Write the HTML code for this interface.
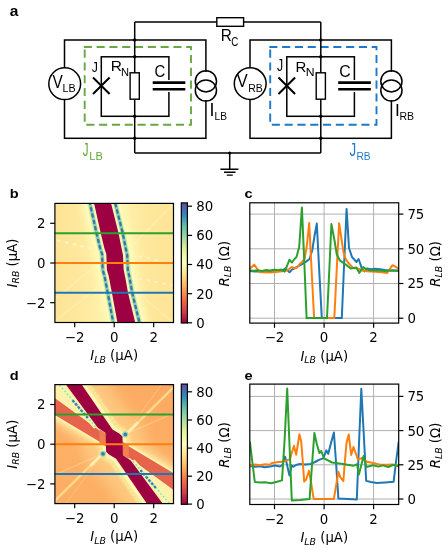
<!DOCTYPE html>
<html><head><meta charset="utf-8"><title>Figure</title>
<style>
html,body{margin:0;padding:0;background:#fff;}
svg{display:block;}
.c{font-family:"Liberation Sans",sans-serif;fill:#000;}
.m{font-family:"DejaVu Sans","Liberation Sans",sans-serif;fill:#000;font-size:13.33px;}
.pl{font-family:"Liberation Sans",sans-serif;font-weight:bold;font-size:13px;fill:#000;}
.w{stroke:#000;stroke-width:1.5;fill:none;}
</style></head><body>
<svg width="448" height="550" viewBox="0 0 448 550">
<rect width="448" height="550" fill="#fff"/>

<g id="circuit">
<path class="w" d="M134.7 22H320.8M134.7 153H320.8M229.7 153V169.2"/>
<rect x="216.8" y="17.7" width="26.8" height="8.6" fill="#fff" stroke="#000" stroke-width="1.4"/>
<circle cx="229.7" cy="153" r="1.6" fill="#000"/>
<path d="M220.4 169.2H238.4M224 172.2H235.5M226.8 175.1H232.8" stroke="#000" stroke-width="1.4" fill="none"/>
<text class="c" transform="translate(220.85 40.70) scale(0.766 0.829)" font-size="20" style="fill:#000">R</text>
<text class="c" transform="translate(231.31 45.62) scale(0.491 0.602)" font-size="20" style="fill:#000">C</text>
<rect class="w" x="64.5" y="40.0" width="141.4" height="98.30000000000001"/>
<path d="M83.8 47H191.0V124.8H84.7V47" fill="none" stroke="#6aa843" stroke-width="1.9" stroke-dasharray="8.1 4.7"/>
<rect class="w" x="101.3" y="56.8" width="67.60000000000001" height="59.5"/>
<path class="w" d="M134.7 22V153"/>
<rect x="130.1" y="72.8" width="9.2" height="26.4" fill="#fff" stroke="#000" stroke-width="1.4"/>
<circle cx="134.7" cy="40.0" r="1.7" fill="#000"/>
<circle cx="134.7" cy="56.8" r="1.7" fill="#000"/>
<circle cx="134.7" cy="116.3" r="1.7" fill="#000"/>
<circle cx="134.7" cy="138.3" r="1.7" fill="#000"/>
<path d="M93.0 77.5L109.6 94M109.6 77.5L93.0 94" stroke="#000" stroke-width="2" fill="none"/>
<rect x="151.9" y="80" width="34" height="12" fill="#fff"/>
<path d="M152.70000000000002 82.6H185.3M152.70000000000002 89.3H185.3" stroke="#000" stroke-width="2.6" fill="none"/>
<circle cx="64.7" cy="83.7" r="15.9" fill="#fff" stroke="#000" stroke-width="1.5"/>
<rect x="202.9" y="72" width="6" height="28" fill="#fff"/>
<circle cx="205.9" cy="81.3" r="10.6" fill="none" stroke="#000" stroke-width="1.5"/>
<circle cx="205.9" cy="90.5" r="10.6" fill="none" stroke="#000" stroke-width="1.5"/>
<text class="c" transform="translate(52.60 87.60) scale(0.770 0.880)" font-size="20" style="fill:#000">V</text>
<text class="c" transform="translate(62.53 92.00) scale(0.538 0.575)" font-size="20" style="fill:#000">LB</text>
<text class="c" transform="translate(209.52 116.00) scale(0.895 0.895)" font-size="20" style="fill:#000">I</text>
<text class="c" transform="translate(214.58 120.00) scale(0.506 0.538)" font-size="20" style="fill:#000">LB</text>
<text class="c" transform="translate(91.87 71.60) scale(0.615 0.764)" font-size="20" style="fill:#000">J</text>
<text class="c" transform="translate(110.74 71.30) scale(0.775 0.778)" font-size="20" style="fill:#000">R</text>
<text class="c" transform="translate(120.89 76.20) scale(0.557 0.538)" font-size="20" style="fill:#000">N</text>
<text class="c" transform="translate(154.46 76.99) scale(0.745 0.842)" font-size="20" style="fill:#000">C</text>
<text class="c" transform="translate(82.68 156.08) scale(0.578 0.930)" font-size="20" style="fill:#66a83c">J</text>
<text class="c" transform="translate(89.20 160.20) scale(0.556 0.575)" font-size="20" style="fill:#66a83c">LB</text>
<rect class="w" x="250.0" y="40.0" width="141.39999999999998" height="98.30000000000001"/>
<path d="M269.3 47H376.5V124.8H270.2V47" fill="none" stroke="#1f78c8" stroke-width="1.9" stroke-dasharray="8.1 4.7"/>
<rect class="w" x="286.8" y="56.8" width="67.59999999999997" height="59.5"/>
<path class="w" d="M320.8 22V153"/>
<rect x="316.2" y="72.8" width="9.2" height="26.4" fill="#fff" stroke="#000" stroke-width="1.4"/>
<circle cx="320.8" cy="40.0" r="1.7" fill="#000"/>
<circle cx="320.8" cy="56.8" r="1.7" fill="#000"/>
<circle cx="320.8" cy="116.3" r="1.7" fill="#000"/>
<circle cx="320.8" cy="138.3" r="1.7" fill="#000"/>
<path d="M278.5 77.5L295.1 94M295.1 77.5L278.5 94" stroke="#000" stroke-width="2" fill="none"/>
<rect x="337.4" y="80" width="34" height="12" fill="#fff"/>
<path d="M338.2 82.6H370.79999999999995M338.2 89.3H370.79999999999995" stroke="#000" stroke-width="2.6" fill="none"/>
<circle cx="250.2" cy="83.6" r="15.9" fill="#fff" stroke="#000" stroke-width="1.5"/>
<rect x="388.4" y="72" width="6" height="28" fill="#fff"/>
<circle cx="391.4" cy="81.3" r="10.6" fill="none" stroke="#000" stroke-width="1.5"/>
<circle cx="391.4" cy="90.5" r="10.6" fill="none" stroke="#000" stroke-width="1.5"/>
<text class="c" transform="translate(236.80 87.30) scale(0.823 0.880)" font-size="20" style="fill:#000">V</text>
<text class="c" transform="translate(248.25 91.50) scale(0.525 0.545)" font-size="20" style="fill:#000">RB</text>
<text class="c" transform="translate(394.88 116.00) scale(0.865 0.865)" font-size="20" style="fill:#000">I</text>
<text class="c" transform="translate(399.45 120.00) scale(0.525 0.509)" font-size="20" style="fill:#000">RB</text>
<text class="c" transform="translate(277.07 71.40) scale(0.615 0.786)" font-size="20" style="fill:#000">J</text>
<text class="c" transform="translate(295.58 71.60) scale(0.749 0.771)" font-size="20" style="fill:#000">R</text>
<text class="c" transform="translate(305.71 76.20) scale(0.611 0.538)" font-size="20" style="fill:#000">N</text>
<text class="c" transform="translate(339.21 76.89) scale(0.792 0.842)" font-size="20" style="fill:#000">C</text>
<text class="c" transform="translate(349.55 155.88) scale(0.665 0.930)" font-size="20" style="fill:#1f78c8">J</text>
<text class="c" transform="translate(356.47 160.00) scale(0.513 0.589)" font-size="20" style="fill:#1f78c8">RB</text>
</g>
<text class="pl" x="9.7" y="16" style="font-size:15.5px">a</text>
<defs>
<clipPath id="cb"><rect x="54.9" y="203.4" width="118.6" height="119.1"/></clipPath>
<clipPath id="cd"><rect x="54.9" y="384.6" width="118.6" height="119"/></clipPath>
<clipPath id="cc"><rect x="249.8" y="202.8" width="148.9" height="120.3"/></clipPath>
<clipPath id="ce"><rect x="249.8" y="384.1" width="148.9" height="120.4"/></clipPath>
<filter id="b1" x="-20%" y="-20%" width="140%" height="140%"><feGaussianBlur stdDeviation="0.7"/></filter>
<filter id="b2" x="-20%" y="-20%" width="140%" height="140%"><feGaussianBlur stdDeviation="1.6"/></filter>
<filter id="b3" x="-30%" y="-30%" width="160%" height="160%"><feGaussianBlur stdDeviation="3.2"/></filter>
<filter id="b6" x="-30%" y="-30%" width="160%" height="160%"><feGaussianBlur stdDeviation="7"/></filter>
<linearGradient id="spec" x1="0" y1="1" x2="0" y2="0">
<stop offset="0" stop-color="#9e0142"/><stop offset="0.1" stop-color="#d53e4f"/><stop offset="0.2" stop-color="#f46d43"/>
<stop offset="0.3" stop-color="#fdae61"/><stop offset="0.4" stop-color="#fee08b"/><stop offset="0.5" stop-color="#ffffbf"/>
<stop offset="0.6" stop-color="#e6f598"/><stop offset="0.7" stop-color="#abdda4"/><stop offset="0.8" stop-color="#66c2a5"/>
<stop offset="0.9" stop-color="#3288bd"/><stop offset="1" stop-color="#5e4fa2"/></linearGradient>
<linearGradient id="bgb" x1="0" y1="0" x2="1" y2="0">
<stop offset="0" stop-color="#fee395"/><stop offset="0.2" stop-color="#fee89d"/><stop offset="0.5" stop-color="#fff4b0"/><stop offset="0.8" stop-color="#fee79b"/><stop offset="1" stop-color="#fee496"/></linearGradient>
</defs>
<g clip-path="url(#cb)">
<rect x="54.9" y="203.4" width="118.6" height="119.1" fill="url(#bgb)"/>
<g stroke="#fff6c4" stroke-width="1.2" opacity="0.5" filter="url(#b1)"><path d="M54 300L100 262M172 205L128 250M54 322L104 282M172 322L135 290" fill="none"/></g>
<path d="M57 240.4L97 249.6" stroke="#fff6c6" stroke-width="2.4" stroke-dasharray="3.5 4.5" opacity="0.9" filter="url(#b1)" fill="none"/>
<path d="M131 277L173 285.5M131 254.6L163 261.4" stroke="#fff6c6" stroke-width="2.2" stroke-dasharray="3.5 4.5" opacity="0.75" filter="url(#b1)" fill="none"/>
<polygon points="79.3,195.4 87.7,233.0 91.4,248.5 93.3,254.0 93.9,270.0 95.7,276.0 98.9,292.8 105.9,330.5 150.2,330.5 141.0,292.8 138.4,278.0 136.7,270.0 136.0,255.0 134.5,248.0 131.5,233.0 122.1,195.4" fill="#fff8b4" filter="url(#b3)"/>
<polygon points="83.8,195.4 92.2,233.0 95.9,248.5 97.8,254.0 98.4,270.0 100.2,276.0 103.4,292.8 110.4,330.5 145.7,330.5 136.5,292.8 133.9,278.0 132.2,270.0 131.5,255.0 130.0,248.0 127.0,233.0 117.6,195.4" fill="#fffdc0" filter="url(#b2)"/>
<polygon points="85.3,195.4 93.7,233.0 97.4,248.5 99.3,254.0 99.9,270.0 101.7,276.0 104.9,292.8 111.9,330.5 144.2,330.5 135.0,292.8 132.4,278.0 130.7,270.0 130.0,255.0 128.5,248.0 125.5,233.0 116.1,195.4" fill="#dcf0a4" filter="url(#b1)"/>
<polygon points="86.4,195.4 94.8,233.0 98.5,248.5 100.4,254.0 101.0,270.0 102.8,276.0 106.0,292.8 113.0,330.5 143.1,330.5 133.9,292.8 131.3,278.0 129.6,270.0 128.9,255.0 127.4,248.0 124.4,233.0 115.0,195.4" fill="#86cfa6" filter="url(#b1)"/>
<polyline points="88.1,195.4 96.5,233.0 100.2,248.5 102.1,254.0 102.7,270.0 104.5,276.0 107.7,292.8 114.7,330.5" fill="none" stroke="#3e6db2" stroke-width="2.2" stroke-linecap="round" stroke-dasharray="2.3 4.2" filter="url(#b1)"/>
<polyline points="141.4,330.5 132.2,292.8 129.6,278.0 127.9,270.0 127.2,255.0 125.7,248.0 122.7,233.0 113.3,195.4" fill="none" stroke="#3e6db2" stroke-width="2.2" stroke-linecap="round" stroke-dasharray="2.3 4.2" stroke-dashoffset="3" filter="url(#b1)"/>
<polygon points="90.0,195.4 98.4,233.0 102.1,248.5 104.0,254.0 104.6,270.0 106.4,276.0 109.6,292.8 116.6,330.5 139.5,330.5 130.3,292.8 127.7,278.0 126.0,270.0 125.3,255.0 123.8,248.0 120.8,233.0 111.4,195.4" fill="#eef7b0" filter="url(#b1)"/>
<polygon points="91.1,195.4 99.5,233.0 103.2,248.5 105.1,254.0 105.7,270.0 107.5,276.0 110.7,292.8 117.7,330.5 138.4,330.5 129.2,292.8 126.6,278.0 124.9,270.0 124.2,255.0 122.7,248.0 119.7,233.0 110.3,195.4" fill="#fff8c4" filter="url(#b1)"/>
<polygon points="92.3,195.4 100.7,233.0 104.4,248.5 106.3,254.0 106.9,270.0 108.7,276.0 111.9,292.8 118.9,330.5 137.2,330.5 128.0,292.8 125.4,278.0 123.7,270.0 123.0,255.0 121.5,248.0 118.5,233.0 109.1,195.4" fill="#9e0142"/>
</g>
<path d="M54.9 233.2H173.5" stroke="#2ca02c" stroke-width="2" fill="none"/><path d="M54.9 263.0H173.5" stroke="#ff7f0e" stroke-width="2" fill="none"/><path d="M54.9 292.8H173.5" stroke="#1f77b4" stroke-width="2" fill="none"/>
<rect x="54.9" y="203.4" width="118.6" height="119.1" fill="none" stroke="#000" stroke-width="1.2"/>
<linearGradient id="bgd" x1="0" y1="1" x2="1" y2="0">
<stop offset="0" stop-color="#fcad63"/><stop offset="0.5" stop-color="#fdb268"/><stop offset="1" stop-color="#fca860"/></linearGradient>
<g clip-path="url(#cd)">
<rect x="54.9" y="384.6" width="118.6" height="119.0" fill="url(#bgd)"/>
<polygon points="77.9,379.0 112.5,429.4 119.6,433.8 122.5,436.5 122.9,454.7 123.2,455.5 130.8,460.4 166.8,509.2 150.7,509.2 116.1,458.8 109.0,454.4 106.1,451.7 105.7,433.5 105.4,432.7 97.8,427.8 61.8,379.0" fill="none" stroke="#fdca82" stroke-width="44" stroke-linejoin="round" filter="url(#b6)" opacity="0.9"/>
<polygon points="50.0,393.7 54.9,397.2 99.5,429.6 105.9,433.8 105.9,446.5 54.9,416.0 50.0,413.1" fill="none" stroke="#fdcb84" stroke-width="16" filter="url(#b3)"/>
<polygon points="178.6,494.5 173.7,491.0 129.1,458.6 122.7,454.4 122.7,441.7 173.7,472.2 178.6,475.1" fill="none" stroke="#fdcb84" stroke-width="16" filter="url(#b3)"/>
<polygon points="77.9,379.0 112.5,429.4 119.6,433.8 122.5,436.5 122.9,454.7 123.2,455.5 130.8,460.4 166.8,509.2 150.7,509.2 116.1,458.8 109.0,454.4 106.1,451.7 105.7,433.5 105.4,432.7 97.8,427.8 61.8,379.0" fill="none" stroke="#fee394" stroke-width="15" stroke-linejoin="round" filter="url(#b2)"/>
<polygon points="50.0,393.7 54.9,397.2 99.5,429.6 105.9,433.8 105.9,446.5 54.9,416.0 50.0,413.1" fill="none" stroke="#fee597" stroke-width="7" filter="url(#b2)"/>
<polygon points="178.6,494.5 173.7,491.0 129.1,458.6 122.7,454.4 122.7,441.7 173.7,472.2 178.6,475.1" fill="none" stroke="#fee597" stroke-width="7" filter="url(#b2)"/>
<polygon points="77.9,379.0 112.5,429.4 119.6,433.8 122.5,436.5 122.9,454.7 123.2,455.5 130.8,460.4 166.8,509.2 150.7,509.2 116.1,458.8 109.0,454.4 106.1,451.7 105.7,433.5 105.4,432.7 97.8,427.8 61.8,379.0" fill="none" stroke="#fff6b4" stroke-width="7" stroke-linejoin="round" filter="url(#b1)"/>
<polygon points="50.0,379.0 62.0,379.0 97.8,427.8 103.3,431.3 50.0,393.2" fill="#fff0aa" filter="url(#b1)"/>
<polygon points="178.6,509.2 166.6,509.2 130.8,460.4 125.3,456.9 178.6,495.0" fill="#fff0aa" filter="url(#b1)"/>
<polygon points="50,379 60,379 50,392" fill="#fdc674" filter="url(#b2)"/><polygon points="178,509 168,509 178,496" fill="#fdc674" filter="url(#b2)"/>
<g fill="none" filter="url(#b1)"><path d="M125.5 434.8L176 384.8M102.9 453.4L52 503.6" stroke="#fed98b" stroke-width="2.4"/><path d="M125.5 434.8L138 422.4M102.9 453.4L90.4 465.8" stroke="#fff2b0" stroke-width="2.6"/><path d="M102 454L54 475M126 434L174 413" stroke="#fee79c" stroke-width="1.3" opacity="0.45"/><path d="M101 456L66 503.5M127 432L162 384" stroke="#fee79c" stroke-width="1.2" opacity="0.3"/></g>
<polygon points="50.0,393.7 54.9,397.2 99.5,429.6 105.9,433.8 105.9,446.5 54.9,416.0 50.0,413.1" fill="#e7644c" stroke="#fff3b0" stroke-width="1.6"/>
<polygon points="178.6,494.5 173.7,491.0 129.1,458.6 122.7,454.4 122.7,441.7 173.7,472.2 178.6,475.1" fill="#e7644c" stroke="#fff3b0" stroke-width="1.6"/>
<polygon points="99.5,429.3 106,433.5 106,446.6 99.5,442.8" fill="#f0804e"/>
<polygon points="122.3,441.6 128.8,445.4 128.8,458.9 122.3,454.7" fill="#f0804e"/>
<g fill="none" filter="url(#b1)"><path d="M59.5 385L95.8 427.2M169.1 503.2L132.8 461.0" stroke="#f0f9b2" stroke-width="4.6"/><path d="M59.5 385L95.8 427.2M169.1 503.2L132.8 461.0" stroke="#a8dca6" stroke-width="1.7" stroke-dasharray="1.8 2"/><path d="M72.5 400.2L88.5 418.8M155.8 488L139.8 469.4" stroke="#3b7fba" stroke-width="2.4" stroke-dasharray="2.6 1.6"/></g>
<g fill="none" filter="url(#b1)" stroke="#e4f4a6" stroke-width="1.6" stroke-dasharray="2 2.4" opacity="0.9"><path d="M89.5 385L121 430.5M138.8 503.2L107.3 457.7"/></g>
<polygon points="77.9,379.0 112.5,429.4 119.6,433.8 122.5,436.5 122.9,454.7 123.2,455.5 130.8,460.4 166.8,509.2 150.7,509.2 116.1,458.8 109.0,454.4 106.1,451.7 105.7,433.5 105.4,432.7 97.8,427.8 61.8,379.0" fill="#9e0142"/>
<circle cx="125.3" cy="434.4" r="3.1" fill="#a5dba4" filter="url(#b1)"/><circle cx="125.3" cy="434.4" r="1.9" fill="#3a7dba" filter="url(#b1)"/>
<circle cx="103.0" cy="453.8" r="3.1" fill="#a5dba4" filter="url(#b1)"/><circle cx="103.0" cy="453.8" r="1.9" fill="#3a7dba" filter="url(#b1)"/>
</g>
<path d="M54.9 414.4H173.5" stroke="#2ca02c" stroke-width="2" fill="none"/><path d="M54.9 444.2H173.5" stroke="#ff7f0e" stroke-width="2" fill="none"/><path d="M54.9 474.0H173.5" stroke="#1f77b4" stroke-width="2" fill="none"/>
<rect x="54.9" y="384.6" width="118.6" height="119.0" fill="none" stroke="#000" stroke-width="1.2"/>
<rect x="181.3" y="202.9" width="6.1" height="120.1" fill="url(#spec)" stroke="#000" stroke-width="1.2"/><path d="M187.5 206.2H192.1" stroke="#000" stroke-width="1.2"/><text class="m" x="196.2" y="211.1">80</text><path d="M187.5 235.4H192.1" stroke="#000" stroke-width="1.2"/><text class="m" x="196.2" y="240.3">60</text><path d="M187.5 264.5H192.1" stroke="#000" stroke-width="1.2"/><text class="m" x="196.2" y="269.4">40</text><path d="M187.5 293.7H192.1" stroke="#000" stroke-width="1.2"/><text class="m" x="196.2" y="298.59999999999997">20</text><path d="M187.5 322.8H192.1" stroke="#000" stroke-width="1.2"/><text class="m" x="196.2" y="327.7">0</text>
<rect x="181.3" y="384.1" width="6.1" height="120.19999999999999" fill="url(#spec)" stroke="#000" stroke-width="1.2"/><path d="M187.5 391.8H192.1" stroke="#000" stroke-width="1.2"/><text class="m" x="196.2" y="396.7">80</text><path d="M187.5 420.0H192.1" stroke="#000" stroke-width="1.2"/><text class="m" x="196.2" y="424.9">60</text><path d="M187.5 448.1H192.1" stroke="#000" stroke-width="1.2"/><text class="m" x="196.2" y="453.0">40</text><path d="M187.5 476.2H192.1" stroke="#000" stroke-width="1.2"/><text class="m" x="196.2" y="481.09999999999997">20</text><path d="M187.5 504.1H192.1" stroke="#000" stroke-width="1.2"/><text class="m" x="196.2" y="509.0">0</text>
<text class="m" transform="translate(228.6 263.6) rotate(-90)" text-anchor="middle"><tspan font-style="italic">R</tspan><tspan font-style="italic" font-size="9.33" dy="2.3">LB</tspan><tspan dy="-2.3"> (Ω)</tspan></text>
<text class="m" transform="translate(228.6 445) rotate(-90)" text-anchor="middle"><tspan font-style="italic">R</tspan><tspan font-style="italic" font-size="9.33" dy="2.3">LB</tspan><tspan dy="-2.3"> (Ω)</tspan></text>
<text class="m" transform="translate(439.9 263.8) rotate(-90)" text-anchor="middle"><tspan font-style="italic">R</tspan><tspan font-style="italic" font-size="9.33" dy="2.3">LB</tspan><tspan dy="-2.3"> (Ω)</tspan></text>
<text class="m" transform="translate(439.9 445.4) rotate(-90)" text-anchor="middle"><tspan font-style="italic">R</tspan><tspan font-style="italic" font-size="9.33" dy="2.3">LB</tspan><tspan dy="-2.3"> (Ω)</tspan></text>
<path d="M74.7 322.5V327.2" stroke="#000" stroke-width="1.2"/><text class="m" x="74.7" y="341.8" text-anchor="middle">−2</text><path d="M54.9 302.7H50.2" stroke="#000" stroke-width="1.2"/><text class="m" x="45.5" y="307.6" text-anchor="end">−2</text><path d="M114.2 322.5V327.2" stroke="#000" stroke-width="1.2"/><text class="m" x="114.2" y="341.8" text-anchor="middle">0</text><path d="M54.9 263.0H50.2" stroke="#000" stroke-width="1.2"/><text class="m" x="45.5" y="267.9" text-anchor="end">0</text><path d="M153.7 322.5V327.2" stroke="#000" stroke-width="1.2"/><text class="m" x="153.7" y="341.8" text-anchor="middle">2</text><path d="M54.9 223.3H50.2" stroke="#000" stroke-width="1.2"/><text class="m" x="45.5" y="228.2" text-anchor="end">2</text>
<path d="M74.7 503.6V508.3" stroke="#000" stroke-width="1.2"/><text class="m" x="74.7" y="522.9" text-anchor="middle">−2</text><path d="M54.9 483.9H50.2" stroke="#000" stroke-width="1.2"/><text class="m" x="45.5" y="488.8" text-anchor="end">−2</text><path d="M114.2 503.6V508.3" stroke="#000" stroke-width="1.2"/><text class="m" x="114.2" y="522.9" text-anchor="middle">0</text><path d="M54.9 444.2H50.2" stroke="#000" stroke-width="1.2"/><text class="m" x="45.5" y="449.1" text-anchor="end">0</text><path d="M153.7 503.6V508.3" stroke="#000" stroke-width="1.2"/><text class="m" x="153.7" y="522.9" text-anchor="middle">2</text><path d="M54.9 404.5H50.2" stroke="#000" stroke-width="1.2"/><text class="m" x="45.5" y="409.4" text-anchor="end">2</text>
<text class="m" x="114.2" y="360.3" text-anchor="middle"><tspan font-style="italic">I</tspan><tspan font-style="italic" font-size="9.33" dy="2.3">LB</tspan><tspan dy="-2.3"> (µA)</tspan></text>
<text class="m" x="114.2" y="541.4" text-anchor="middle"><tspan font-style="italic">I</tspan><tspan font-style="italic" font-size="9.33" dy="2.3">LB</tspan><tspan dy="-2.3"> (µA)</tspan></text>
<text class="m" transform="translate(16.6 263.0) rotate(-90)" text-anchor="middle"><tspan font-style="italic">I</tspan><tspan font-style="italic" font-size="9.33" dy="2.3">RB</tspan><tspan dy="-2.3"> (µA)</tspan></text>
<text class="m" transform="translate(16.6 444.2) rotate(-90)" text-anchor="middle"><tspan font-style="italic">I</tspan><tspan font-style="italic" font-size="9.33" dy="2.3">RB</tspan><tspan dy="-2.3"> (µA)</tspan></text>
<rect x="249.8" y="202.8" width="148.89999999999998" height="120.30000000000001" fill="#fff"/><path d="M274.5 202.8V323.1M324.1 202.8V323.1M373.6 202.8V323.1M249.8 214.1H398.7M249.8 248.8H398.7M249.8 283.5H398.7M249.8 318.2H398.7" stroke="#b0b0b0" stroke-width="1" fill="none"/><g clip-path="url(#cc)" fill="none" stroke-width="2" stroke-linejoin="round" stroke-linecap="butt"><polyline stroke="#1f77b4" points="249.8,271.0 255.0,271.6 260.0,271.2 265.0,271.8 270.0,271.3 275.0,271.6 280.0,271.0 283.0,270.0 285.5,268.4 289.5,272.3 292.0,269.6 297.0,267.0 301.6,264.3 306.0,261.6 309.6,259.0 312.3,250.0 314.5,236.0 316.8,223.6 319.2,270.0 321.8,318.1 341.8,318.1 344.2,262.0 346.6,208.9 349.0,248.0 352.0,257.0 356.5,262.0 358.6,259.0 362.0,268.8 364.5,271.4 367.0,268.5 371.0,269.3 375.0,268.8 380.0,269.2 385.0,270.0 390.0,270.3 398.7,270.5"/><polyline stroke="#ff7f0e" points="249.8,268.8 254.2,264.6 259.6,272.3 265.0,272.2 270.0,272.4 275.0,272.0 280.0,271.6 283.7,271.0 287.0,270.5 289.4,268.8 291.8,267.0 294.5,268.4 297.1,267.5 299.5,264.3 302.0,262.0 304.5,259.0 306.8,246.0 309.2,222.9 311.6,270.0 314.1,318.1 334.3,318.1 336.7,270.0 339.1,223.2 341.0,235.7 343.4,251.8 345.7,259.0 347.9,262.5 353.2,267.9 358.6,268.8 362.1,270.5 367.0,271.3 375.0,271.8 382.0,272.2 387.1,272.9 389.8,269.0 392.5,265.2 396.0,267.0 398.7,268.8"/><polyline stroke="#2ca02c" points="249.8,270.5 254.0,270.8 258.0,270.2 262.0,270.9 266.0,270.0 270.0,270.6 274.0,269.8 278.0,270.2 281.0,269.6 284.6,271.6 287.0,266.0 289.4,259.8 292.0,262.5 294.5,259.0 296.5,257.0 299.2,247.0 301.9,207.5 304.3,262.0 306.6,318.1 327.0,318.1 329.3,270.0 331.4,224.1 334.6,241.0 336.8,254.5 340.0,260.7 345.4,264.3 350.7,268.4 356.4,267.5 359.3,272.9 363.2,267.0 366.8,269.6 371.0,270.4 378.0,270.6 385.0,270.9 392.0,270.6 398.7,271.0"/></g><rect x="249.8" y="202.8" width="148.89999999999998" height="120.30000000000001" fill="none" stroke="#000" stroke-width="1.2"/><path d="M274.5 323.1V327.8" stroke="#000" stroke-width="1.2"/><text class="m" x="274.5" y="342.40000000000003" text-anchor="middle">−2</text><path d="M324.1 323.1V327.8" stroke="#000" stroke-width="1.2"/><text class="m" x="324.1" y="342.40000000000003" text-anchor="middle">0</text><path d="M373.6 323.1V327.8" stroke="#000" stroke-width="1.2"/><text class="m" x="373.6" y="342.40000000000003" text-anchor="middle">2</text><path d="M398.7 214.1H403.4" stroke="#000" stroke-width="1.2"/><text class="m" x="407.4" y="219.0">75</text><path d="M398.7 248.8H403.4" stroke="#000" stroke-width="1.2"/><text class="m" x="407.4" y="253.70000000000002">50</text><path d="M398.7 283.5H403.4" stroke="#000" stroke-width="1.2"/><text class="m" x="407.4" y="288.4">25</text><path d="M398.7 318.2H403.4" stroke="#000" stroke-width="1.2"/><text class="m" x="407.4" y="323.09999999999997">0</text>
<rect x="249.8" y="384.1" width="148.89999999999998" height="120.39999999999998" fill="#fff"/><path d="M274.5 384.1V504.5M324.1 384.1V504.5M373.6 384.1V504.5M249.8 396.4H398.7M249.8 430.6H398.7M249.8 464.8H398.7M249.8 499.0H398.7" stroke="#b0b0b0" stroke-width="1" fill="none"/><g clip-path="url(#ce)" fill="none" stroke-width="2" stroke-linejoin="round" stroke-linecap="butt"><polyline stroke="#1f77b4" points="249.8,466.0 255.0,466.8 260.0,466.2 265.0,467.2 270.0,466.5 275.0,465.6 280.0,466.5 282.5,465.0 285.0,456.6 286.4,462.0 289.4,475.4 291.8,465.5 293.5,466.8 296.0,465.0 299.8,464.0 305.0,464.5 310.5,464.0 315.0,462.0 319.4,459.6 323.2,458.4 326.4,450.4 328.2,453.9 331.0,443.0 333.9,432.5 336.2,465.0 338.4,498.6 356.8,499.5 359.0,444.0 361.3,388.7 363.8,435.0 366.2,480.9 371.0,482.0 376.6,483.0 385.0,482.5 393.6,481.8 396.0,462.0 398.7,441.6"/><polyline stroke="#ff7f0e" points="249.8,465.5 255.0,464.5 260.0,465.3 265.0,464.3 269.4,464.8 272.0,463.0 277.0,462.3 283.7,461.4 290.0,459.3 292.0,452.0 294.0,445.9 296.2,454.8 299.4,434.3 301.2,441.4 302.8,462.0 304.2,481.6 306.0,479.8 309.0,470.9 310.5,479.0 313.7,498.9 333.9,498.9 336.2,485.0 338.4,471.8 340.2,477.1 343.4,481.0 344.8,462.0 346.5,443.0 348.7,434.4 351.2,455.0 353.5,447.0 356.0,454.0 358.0,459.6 361.4,458.2 366.8,461.8 375.7,463.6 380.2,464.8 386.4,464.8 391.8,464.5 398.7,465.8"/><polyline stroke="#2ca02c" points="249.8,441.4 254.8,482.0 260.0,482.5 265.0,482.2 271.2,483.2 277.0,481.8 282.0,480.4 284.6,440.0 287.2,388.5 289.5,445.0 291.8,500.4 300.0,499.9 309.6,498.9 312.0,465.0 314.4,432.9 316.8,444.0 319.4,453.0 321.2,451.0 324.1,458.4 332.1,462.5 342.9,464.1 353.4,465.8 357.0,464.2 358.9,474.6 363.6,456.0 366.4,467.0 373.0,465.2 378.4,466.6 382.9,465.4 388.2,467.0 393.6,464.8 398.7,466.4"/></g><rect x="249.8" y="384.1" width="148.89999999999998" height="120.39999999999998" fill="none" stroke="#000" stroke-width="1.2"/><path d="M274.5 504.5V509.2" stroke="#000" stroke-width="1.2"/><text class="m" x="274.5" y="523.8" text-anchor="middle">−2</text><path d="M324.1 504.5V509.2" stroke="#000" stroke-width="1.2"/><text class="m" x="324.1" y="523.8" text-anchor="middle">0</text><path d="M373.6 504.5V509.2" stroke="#000" stroke-width="1.2"/><text class="m" x="373.6" y="523.8" text-anchor="middle">2</text><path d="M398.7 396.4H403.4" stroke="#000" stroke-width="1.2"/><text class="m" x="407.4" y="401.29999999999995">75</text><path d="M398.7 430.6H403.4" stroke="#000" stroke-width="1.2"/><text class="m" x="407.4" y="435.5">50</text><path d="M398.7 464.8H403.4" stroke="#000" stroke-width="1.2"/><text class="m" x="407.4" y="469.7">25</text><path d="M398.7 499.0H403.4" stroke="#000" stroke-width="1.2"/><text class="m" x="407.4" y="503.9">0</text>
<text class="m" x="324.3" y="361.0" text-anchor="middle"><tspan font-style="italic">I</tspan><tspan font-style="italic" font-size="9.33" dy="2.3">LB</tspan><tspan dy="-2.3"> (µA)</tspan></text>
<text class="m" x="324.3" y="542.2" text-anchor="middle"><tspan font-style="italic">I</tspan><tspan font-style="italic" font-size="9.33" dy="2.3">LB</tspan><tspan dy="-2.3"> (µA)</tspan></text>
<text class="pl" transform="translate(9.8 197.9) scale(1.12 1)">b</text>
<text class="pl" transform="translate(244.6 197.8) scale(1.12 1)">c</text>
<text class="pl" transform="translate(9.7 380.1) scale(1.12 1)">d</text>
<text class="pl" transform="translate(244.6 379.6) scale(1.12 1)">e</text>
</svg></body></html>
